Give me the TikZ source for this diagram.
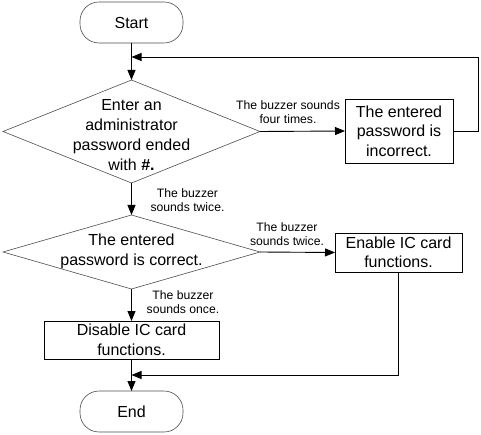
\documentclass[tikz,border=0pt]{standalone}
\usepackage{fontspec}
\setmainfont{Liberation Sans}
\usetikzlibrary{shapes.geometric,arrows.meta}
\begin{document}
\begin{tikzpicture}[x=1pt,y=-1pt,
  every node/.style={inner sep=0pt, outer sep=0pt},
  term/.style={draw=black!70, line width=0.6pt, rounded corners=19pt, minimum width=103pt, minimum height=41pt, font=\fontsize{16}{20}\selectfont},
  dia/.style={draw=black!70, line width=0.6pt, diamond, minimum width=257pt},
  maintext/.style={align=center, font=\fontsize{16}{20}\selectfont},
  proc/.style={draw=black, line width=0.9pt, align=center, font=\fontsize{16}{19.5}\selectfont},
  lbl/.style={align=center, font=\fontsize{12.2}{14.5}\selectfont},
  conn/.style={line width=0.9pt, draw=black},
  arr/.style={conn, -{Triangle[length=10pt,width=8pt]}}
]
\useasboundingbox (0,0) rectangle (481,435);
\node[term] (start) at (131.5,22.5) {Start};
\node[dia, minimum height=103pt] (d1) at (131.5,131.5) {};
\node[maintext] (d1t) at (131.5,135) {Enter an\\administrator\\password ended\\with \textbf{\#.}};
\node[proc, minimum width=108pt, minimum height=64pt] (inc) at (399,131) {The entered\\password is\\incorrect.};
\node[dia, minimum height=74pt] (d2) at (131.5,252) {};
\node[maintext] (d2t) at (131.5,251) {The entered\\password is correct.};
\node[proc, minimum width=127pt, minimum height=39pt] (en) at (398.5,252.5) {Enable IC card\\functions.};
\node[proc, minimum width=175pt, minimum height=38pt, anchor=north] (dis) at (131.5,321) {Disable IC card\\functions.};
\node[term] (end) at (131.5,411.5) {End};

\node[lbl] (l1) at (288,112) {The buzzer sounds\\four times.};
\node[lbl] (l2) at (187.5,200) {The buzzer\\sounds twice.};
\node[lbl] (l3) at (287,234) {The buzzer\\sounds twice.};
\node[lbl] (l4) at (183,302) {The buzzer\\sounds once.};

\coordinate (j1) at (131.5,57);
\coordinate (j2) at (131.5,375);
\coordinate (r1) at (478,131);

\draw[arr] (start.south) -- (d1.north);
\draw[arr] (d1.east) -- (inc.west);
\draw[arr] (inc.east) -- (r1) |- (j1);
\draw[arr] (d1.south) -- (d2.north);
\draw[arr] (d2.east) -- (en.west);
\draw[arr] (d2.south) -- (dis.north);
\draw[arr] (dis.south) -- (end.north);
\draw[arr] (en.south) |- (j2);
\end{tikzpicture}
\end{document}
